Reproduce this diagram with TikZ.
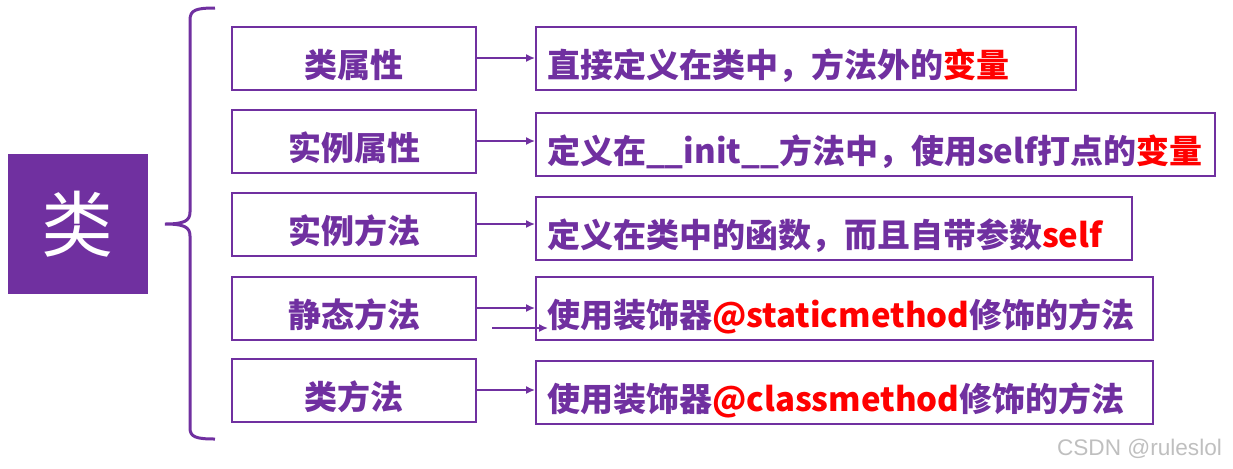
\documentclass[tikz,border=0pt]{standalone}
\usepackage{fontspec}
\setmainfont{Noto Sans CJK SC}
\newfontfamily\wmfont{Liberation Sans}
\usetikzlibrary{arrows.meta}
\definecolor{clspurple}{RGB}{112,48,160}
\definecolor{clsred}{RGB}{255,0,0}
\newcommand{\hl}[1]{\textcolor{clsred}{#1}}
\begin{document}
\begin{tikzpicture}[x=0.5pt,y=-0.5pt]
        \tikzstyle{item}=[draw=clspurple, line width=1pt, minimum width=122pt, minimum height=31.5pt, text height=21pt, text depth=2pt, text=clspurple, font=\bfseries\fontsize{16.5}{18}\selectfont]
        \tikzstyle{desc}=[draw=clspurple, line width=1pt, minimum height=31.5pt, text height=21pt, text depth=2pt, anchor=west, inner xsep=5.5pt, align=left, text=clspurple, font=\bfseries\fontsize{16.5}{18}\selectfont]
        \tikzstyle{link}=[draw=clspurple, line width=0.75pt, -{Latex[length=4.5pt,width=4pt]}]
        \useasboundingbox (0,0) rectangle (1233,468);
        \node[fill=clspurple, minimum width=70pt, minimum height=70pt, text=white, font=\fontsize{36}{36}\selectfont] (cls) at (77.5,224) {类};
        % the brace
        \draw[clspurple, line width=1.5pt] (215,8) .. controls (196,8) and (190,10) .. (190,20) -- (190,212)
          .. controls (190,221) and (184,224) .. (165,224) .. controls (184,224) and (190,227) .. (190,236)
          -- (190,428) .. controls (190,437) and (196,439) .. (215,439);
        % left column
        \node[item] (a1) at (354,58) {类属性};
        \node[item] (a2) at (354,141) {实例属性};
        \node[item] (a3) at (354,224) {实例方法};
        \node[item] (a4) at (354,308) {静态方法};
        \node[item] (a5) at (354,390) {类方法};
        % right column
        \node[desc, text width=259pt] (b1) at (535,58.5) {直接定义在类中，方法外的\hl{变量}};
        \node[desc, text width=328.5pt] (b2) at (535,144) {定义在\_\_init\_\_方法中，使用self打点的\hl{变量}};
        \node[desc, text width=287pt] (b3) at (535,228) {定义在类中的函数，而且自带参数\hl{self}};
        \node[desc, text width=297.5pt] (b4) at (535,308.5) {使用装饰器\hl{@staticmethod}修饰的方法};
        \node[desc, text width=297.5pt] (b5) at (535,392.5) {使用装饰器\hl{@classmethod}修饰的方法};
        % connectors
        \draw[link] (a1.east) -- (a1.east -| b1.west);
        \draw[link] (a2.east) -- (a2.east -| b2.west);
        \draw[link] (a3.east) -- (a3.east -| b3.west);
        \draw[link] (a4.east) -- (a4.east -| b4.west);
        \draw[link] (a5.east) -- (a5.east -| b5.west);
        \coordinate (s1) at (492,328);
        \coordinate (s2) at (548,328);
        \draw[link] (s1) -- (s2);
        \node[anchor=east, text=gray!50, font=\wmfont\fontsize{11.3}{12}\selectfont] (mark) at (1229,449) {CSDN @ruleslol};
\end{tikzpicture}
\end{document}
